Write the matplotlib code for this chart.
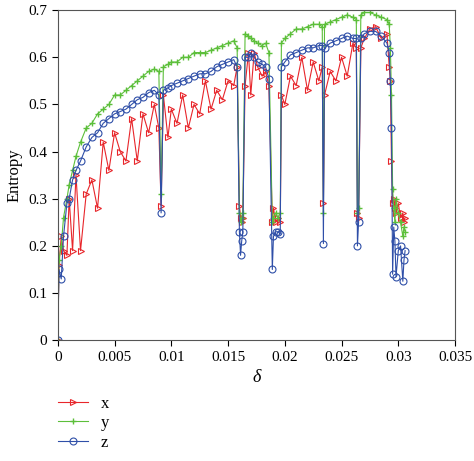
import matplotlib
matplotlib.use("Agg")
import matplotlib.pyplot as plt

plt.rcParams['font.family'] = ['Liberation Serif', 'DejaVu Serif']

delta = [0, 0.0001, 0.0003, 0.0005, 0.0008, 0.001, 0.0013, 0.0016, 0.002, 0.0025,
         0.003, 0.0035, 0.004, 0.0045, 0.005, 0.0055, 0.006, 0.0065, 0.007, 0.0075,
         0.008, 0.0085, 0.0089, 0.0091, 0.0093, 0.0097, 0.01, 0.0105, 0.011, 0.0115,
         0.012, 0.0125, 0.013, 0.0135, 0.014, 0.0145, 0.015, 0.0155, 0.0158, 0.016,
         0.0161, 0.0162, 0.0163, 0.0165, 0.0168, 0.017, 0.0173, 0.0176, 0.018, 0.0183,
         0.0186, 0.0189, 0.019, 0.0192, 0.0194, 0.0196, 0.0197, 0.02, 0.0205, 0.021,
         0.0215, 0.022, 0.0225, 0.023, 0.0233, 0.0234, 0.0235, 0.024, 0.0245, 0.025,
         0.0255, 0.026, 0.0263, 0.0264, 0.0265, 0.0267, 0.027, 0.0275, 0.028, 0.0285,
         0.029, 0.0292, 0.0293, 0.0294, 0.0295, 0.0296, 0.0297, 0.0298, 0.03, 0.0302,
         0.0304, 0.0305, 0.0306]

x_vals = [0, 0.16, 0.22, 0.19, 0.18, 0.30, 0.19, 0.35, 0.19, 0.31,
          0.34, 0.28, 0.42, 0.36, 0.44, 0.40, 0.38, 0.47, 0.38, 0.48,
          0.44, 0.50, 0.45, 0.285, 0.52, 0.43, 0.49, 0.46, 0.52, 0.45,
          0.50, 0.48, 0.55, 0.49, 0.53, 0.51, 0.55, 0.54, 0.58, 0.285,
          0.26, 0.25, 0.26, 0.54, 0.61, 0.52, 0.61, 0.58, 0.56, 0.57,
          0.54, 0.25, 0.28, 0.25, 0.26, 0.25, 0.52, 0.50, 0.56, 0.54,
          0.60, 0.53, 0.59, 0.55, 0.58, 0.29, 0.52, 0.57, 0.55, 0.60,
          0.56, 0.63, 0.62, 0.27, 0.26, 0.62, 0.64, 0.66, 0.665, 0.64,
          0.65, 0.58, 0.55, 0.38, 0.29, 0.30, 0.28, 0.27, 0.29, 0.26,
          0.27, 0.25, 0.26]

y_vals = [0, 0.17, 0.20, 0.26, 0.30, 0.33, 0.36, 0.39, 0.42, 0.45,
          0.46, 0.48, 0.49, 0.50, 0.52, 0.52, 0.53, 0.54, 0.55, 0.56,
          0.57, 0.575, 0.57, 0.31, 0.58, 0.585, 0.59, 0.59, 0.60, 0.60,
          0.61, 0.61, 0.61, 0.615, 0.62, 0.625, 0.63, 0.635, 0.62, 0.27,
          0.25, 0.26, 0.27, 0.65, 0.645, 0.64, 0.635, 0.63, 0.625, 0.63,
          0.61, 0.25, 0.26, 0.27, 0.26, 0.27, 0.63, 0.64, 0.65, 0.66,
          0.66, 0.665, 0.67, 0.67, 0.665, 0.27, 0.67, 0.675, 0.68, 0.685,
          0.69, 0.685, 0.68, 0.27, 0.28, 0.69, 0.695, 0.695, 0.69, 0.685,
          0.68, 0.67, 0.62, 0.52, 0.32, 0.28, 0.25, 0.30, 0.27, 0.25,
          0.22, 0.24, 0.23]

z_vals = [0, 0.15, 0.13, 0.22, 0.29, 0.30, 0.34, 0.36, 0.38, 0.41,
          0.43, 0.44, 0.46, 0.47, 0.48, 0.485, 0.49, 0.50, 0.51, 0.515,
          0.525, 0.53, 0.52, 0.27, 0.53, 0.535, 0.54, 0.545, 0.55, 0.555,
          0.56, 0.565, 0.565, 0.57, 0.58, 0.585, 0.59, 0.595, 0.58, 0.23,
          0.18, 0.21, 0.23, 0.60, 0.60, 0.61, 0.60, 0.59, 0.585, 0.58,
          0.555, 0.15, 0.22, 0.23, 0.23, 0.225, 0.58, 0.59, 0.605, 0.61,
          0.615, 0.62, 0.62, 0.625, 0.625, 0.205, 0.62, 0.63, 0.635, 0.64,
          0.645, 0.64, 0.64, 0.20, 0.25, 0.64, 0.65, 0.655, 0.655, 0.645,
          0.63, 0.61, 0.55, 0.45, 0.14, 0.24, 0.21, 0.135, 0.19, 0.20,
          0.125, 0.17, 0.19]

fig = plt.figure(figsize=(4.74, 4.61), dpi=100)
ax = fig.add_axes([0.122, 0.262, 0.838, 0.716])

l1, = ax.plot(delta, x_vals, color='#e8262b', lw=0.8, marker='>', ms=5,
              mfc='none', mec='#e8262b', mew=0.8, label='x')
l2, = ax.plot(delta, y_vals, color='#5cbf3a', lw=0.8, marker='+', ms=4,
              mew=1.0, label='y')
l3, = ax.plot(delta, z_vals, color='#2f4fa8', lw=0.8, marker='o', ms=5,
              mfc='none', mec='#2f4fa8', mew=0.8, label='z')

ax.set_xlim(0, 0.035)
ax.set_ylim(0, 0.7)
ax.set_xticks([0, 0.005, 0.01, 0.015, 0.02, 0.025, 0.03, 0.035])
ax.set_xticklabels(['0', '0.005', '0.01', '0.015', '0.02', '0.025', '0.03', '0.035'])
ax.set_yticks([0, 0.1, 0.2, 0.3, 0.4, 0.5, 0.6, 0.7])
ax.set_yticklabels(['0', '0.1', '0.2', '0.3', '0.4', '0.5', '0.6', '0.7'])
ax.tick_params(labelsize=11, direction='out', length=4)
for s in ax.spines.values():
    s.set_color('#555555')
ax.set_xlabel('δ', fontsize=13, style='italic')
ax.set_ylabel('Entropy', fontsize=12)

fig.legend(handles=[l1, l2, l3], loc='lower left', bbox_to_anchor=(0.09, -0.01),
           frameon=False, fontsize=12, handlelength=1.8, labelspacing=0.2)

fig.savefig('out.png', dpi=100)
